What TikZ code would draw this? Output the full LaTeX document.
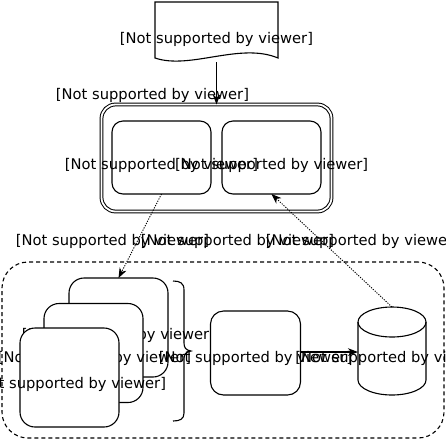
\documentclass[tikz,border=0pt]{standalone}
\usepackage{fontspec}
\setmainfont{DejaVu Sans}
\usetikzlibrary{arrows.meta}
\begin{document}
\begin{tikzpicture}[x=1pt,y=-1pt]
\tikzset{
 shp/.style={draw, fill=white, line width=1.1pt, inner sep=0pt, outer sep=0pt},
 txt/.style={inner sep=0pt, anchor=base, font=\fontsize{14.7pt}{17pt}\selectfont},
 arr/.style={line width=1.1pt, -{Stealth[length=10pt,width=7.5pt,inset=3pt]}},
 dotarr/.style={line width=0.9pt, dash pattern=on 1.2pt off 1.3pt, -{Stealth[length=10pt,width=7.5pt,inset=3pt]}},
}
\useasboundingbox (0,0) rectangle (446,440);
% dashed group
\node[draw, line width=1.1pt, dash pattern=on 4pt off 3pt, rounded corners=26pt, minimum width=442pt, minimum height=176pt, inner sep=0pt] (group) at (223,350) {};
% document shape
\draw[shp] (155,2) -- (278,2) -- (278,58) .. controls (240,42) and (190,70) .. (155,58) -- cycle;
\node[txt] (doct) at (216.5,43.7) {[Not supported by viewer]};
\coordinate (docb) at (216.5,62);
% double container
\node[shp, line width=1pt, double, double distance=1.8pt, rounded corners=14pt, minimum width=230pt, minimum height=107pt] (cont) at (216.5,158) {};
\node[shp, rounded corners=11pt, minimum width=99pt, minimum height=73pt] (lbox) at (161.5,157.5) {};
\node[shp, rounded corners=11pt, minimum width=99pt, minimum height=73pt] (rbox) at (271.5,157.5) {};
\node[txt] (lboxt) at (161.5,169) {[Not supported by viewer]};
\node[txt] (rboxt) at (271.7,169) {[Not supported by viewer]};
% top arrow
\draw[arr] (docb) -- (cont.north);
\node[txt] (toplab) at (152.5,99.5) {[Not supported by viewer]};
% row labels
\node[txt] (lab1) at (112.5,245.5) {[Not supported by viewer]};
\node[txt] (lab2) at (237.5,245.5) {[Not supported by viewer]};
\node[txt] (lab3) at (362.5,245.5) {[Not supported by viewer]};
% cards
\node[shp, rounded corners=15pt, minimum width=99pt, minimum height=99pt] (cardb) at (118.5,327.5) {};
\node[txt] (cardbt) at (118.5,339) {[Not supported by viewer]};
\node[shp, rounded corners=15pt, minimum width=99pt, minimum height=99pt] (cardm) at (93.5,353) {};
\node[txt] (cardmt) at (94.5,362) {[Not supported by viewer]};
\node[shp, rounded corners=15pt, minimum width=99pt, minimum height=99pt] (cardf) at (69.5,377.5) {};
\node[txt] (cardft) at (69.5,388) {[Not supported by viewer]};
% brace
\draw[line width=1.1pt] (173,281) .. controls (180,281) and (184,283) .. (184,290) -- (184,343) .. controls (184,348) and (186,350) .. (191,351) .. controls (186,352) and (184,354) .. (184,359) -- (184,413) .. controls (184,419) and (180,421) .. (173,421);
% middle box
\node[shp, rounded corners=13pt, minimum width=90pt, minimum height=84pt] (mbox) at (255.5,353) {};
% cylinder
\draw[shp] (358,322) -- (358,380) arc[start angle=180, end angle=360, x radius=34pt, y radius=15pt] -- (426,322) arc[start angle=0, end angle=180, x radius=34pt, y radius=15pt] -- cycle;
\draw[line width=1.1pt] (358,322) arc[start angle=180, end angle=360, x radius=34pt, y radius=15pt];
\coordinate (cyltop) at (392,307);
\coordinate (cylwest) at (358,352);
\node[txt] (mboxt) at (255.5,362) {[Not supported by viewer]};
\node[txt] (cylt) at (392,362) {[Not supported by viewer]};
% connectors
\draw[arr] (mbox.east |- cylwest) -- (cylwest);
\draw[dotarr] (lbox.south) -- (cardb.north);
\draw[dotarr] (cyltop) -- (rbox.south);
\end{tikzpicture}
\end{document}
